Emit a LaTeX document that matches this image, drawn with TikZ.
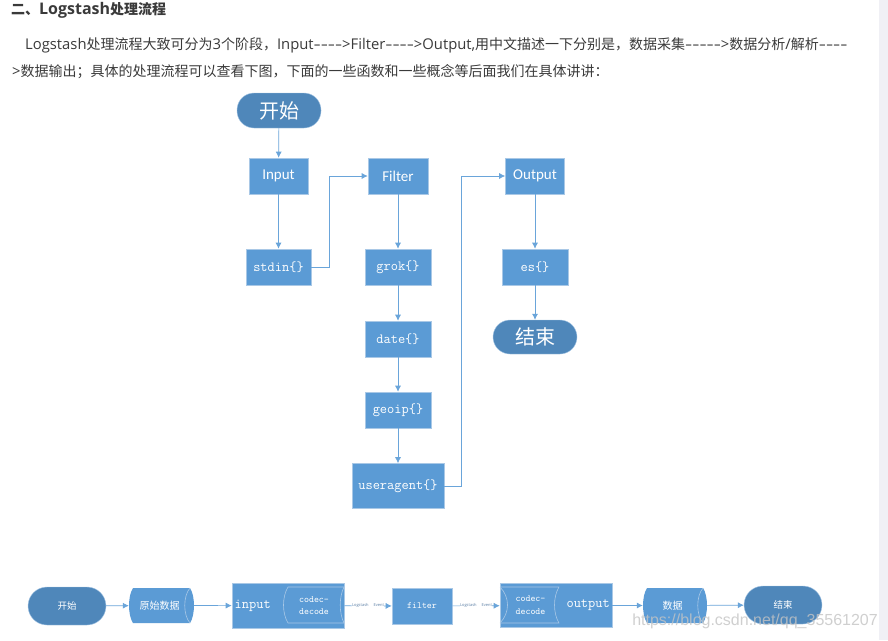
\documentclass[tikz,border=0pt]{standalone}
\usepackage{fontspec}
\usepackage{graphicx}
\setmainfont{Open Sans}
\newfontfamily\cjk{Noto Sans CJK SC}
\newfontfamily\lab{Carlito}
\newfontfamily\wm{Liberation Sans}
\usetikzlibrary{arrows.meta,calc}
\newcommand{\dd}{\scalebox{1.5}[1]{-}}
\newcommand{\zh}[1]{{\cjk\fontsize{14}{17}\selectfont #1}}
\newcommand{\zhb}[1]{{\cjk\bfseries\fontsize{14}{17}\selectfont #1}}
\definecolor{boxblue}{HTML}{5B9BD5}
\definecolor{termblue}{HTML}{4F87BA}
\definecolor{edgeblue}{HTML}{A9C8E6}
\definecolor{wire}{HTML}{6AA5DA}
\definecolor{inktext}{HTML}{3A3A3A}
\definecolor{scrollbar}{HTML}{F0F0F5}
\definecolor{mark}{HTML}{C4C4C4}
\definecolor{tiny}{HTML}{5B7FA5}
\tikzset{
  bluebox/.style={rectangle,fill=boxblue,draw=edgeblue,line width=.6pt,text=white,inner sep=0pt},
  terminator/.style={rectangle,fill=termblue,draw=edgeblue,line width=.4pt,text=white,inner sep=0pt,rounded corners=17pt},
  plainnode/.style={inner sep=0pt,text=white},
  link/.style={draw=wire,line width=.7pt,-{Latex[length=6pt,width=6pt]}},
  innerline/.style={draw=edgeblue,line width=.6pt},
  bodytext/.style={inner sep=0pt,anchor=west,text=inktext},
  eventlabel/.style={fill=white,inner sep=.3pt,text=tiny,font=\fontsize{4}{5}\selectfont},
  codefont/.style={font=\ttfamily\fontsize{14}{16}\selectfont},
  smallcode/.style={font=\ttfamily\fontsize{9.5}{12.5}\selectfont},
  bigcode/.style={font=\ttfamily\fontsize{14}{16}\selectfont}
}
\newcommand{\cylfill}[4]{% x0 y0 x1 y1
  \fill[boxblue] (#1+4,#2) .. controls (#1-1.3,#2+8) and (#1-1.3,#4-8) .. (#1+4,#4) -- (#3-4,#4)
    .. controls (#3+1.3,#4-8) and (#3+1.3,#2+8) .. (#3-4,#2) -- cycle;
  \draw[innerline] (#3-4,#2) .. controls (#3-11,#2+8) and (#3-11,#4-8) .. (#3-4,#4);
}
\begin{document}
\begin{tikzpicture}[x=1pt,y=-1pt]
\useasboundingbox (0,0) rectangle (888,640);
\fill[white] (0,0) rectangle (888,640);
\fill[scrollbar] (879,0) rectangle (888,640);

% page text
\node[bodytext,font=\bfseries\fontsize{16}{18}\selectfont] (heading) at (11,10.5) {\zhb{二、}Logstash\zhb{处理流程}};
\node[bodytext,font=\fontsize{14.8}{17}\selectfont] (lineone) at (25,45.5) {Logstash\zh{处理流程大致可分为}3\zh{个阶段，}Input\dd\dd\dd\dd>Filter\dd\dd\dd\dd>Output,\zh{用中文描述一下分别是，数据采集}\dd\dd\dd\dd\dd>\zh{数据分析}/\zh{解析}\dd\dd\dd\dd};
\node[bodytext,font=\fontsize{14.8}{17}\selectfont] (linetwo) at (12,71.5) {>\zh{数据输出；具体的处理流程可以查看下图，下面的一些函数和一些概念等后面我们在具体讲讲：}};

% upper flow
\node[terminator,minimum width=84pt,minimum height=35pt,font=\cjk\fontsize{20}{24}\selectfont] (start) at (279,110.5) {开始};
\node[bluebox,minimum width=59pt,minimum height=36pt,font=\lab\fontsize{15}{17}\selectfont] (input) at (278.5,176) {Input};
\node[bluebox,minimum width=65pt,minimum height=36pt,codefont] (stdin) at (278.5,267) {stdin\{\}};
\node[bluebox,minimum width=60pt,minimum height=36pt,font=\lab\fontsize{15}{17}\selectfont] (filter) at (398,176) {Filter};
\node[bluebox,minimum width=66pt,minimum height=36pt,codefont] (grok) at (398,267) {grok\{\}};
\node[bluebox,minimum width=66pt,minimum height=36pt,codefont] (date) at (398,339) {date\{\}};
\node[bluebox,minimum width=66pt,minimum height=36pt,codefont] (geoip) at (398,410) {geoip\{\}};
\node[bluebox,minimum width=92pt,minimum height=45pt,codefont] (useragent) at (398,486) {useragent\{\}};
\node[bluebox,minimum width=59pt,minimum height=36pt,font=\lab\fontsize{15}{17}\selectfont] (output) at (535,176) {Output};
\node[bluebox,minimum width=66pt,minimum height=36pt,codefont] (es) at (535,267) {es\{\}};
\node[terminator,minimum width=84pt,minimum height=34pt,font=\cjk\fontsize{20}{24}\selectfont] (finish) at (535,337) {结束};

\draw[link] (start) -- (input);
\draw[link] (input) -- (stdin);
\draw[link] (stdin.east) -- ++(18,0) |- (filter.west);
\draw[link] (filter) -- (grok);
\draw[link] (grok) -- (date);
\draw[link] (date) -- (geoip);
\draw[link] (geoip) -- (useragent);
\draw[link] (useragent.east) -- ++(17,0) |- (output.west);
\draw[link] (output) -- (es);
\draw[link] (es) -- (finish);

% lower flow
\node[terminator,minimum width=78pt,minimum height=38pt,rounded corners=19pt,font=\cjk\fontsize{9.5}{11}\selectfont] (bstart) at (67,606) {开始};
\cylfill{129}{588}{194}{623}
\node[plainnode,minimum width=65pt,minimum height=35pt,font=\cjk\fontsize{10}{12}\selectfont] (raw) at (161.5,605.5) {\hspace{-4pt}原始数据};
\node[bluebox,minimum width=112pt,minimum height=44.5pt] (binput) at (288,605.7) {};
\node[plainnode,anchor=west,bigcode] (binputlabel) at (234.5,605.5) {input};
\draw[innerline] (344,587) -- (288,587) .. controls (282,597) and (282,613) .. (288,623) -- (344,623);
\draw[innerline] (344,587) .. controls (339,597) and (339,613) .. (344,623);
\node[plainnode,align=center,smallcode] (bdecode) at (314,605.5) {codec-\\decode};
\node[bluebox,minimum width=60pt,minimum height=36pt,smallcode] (bfilter) at (422,606) {filter};
\node[bluebox,minimum width=112pt,minimum height=44.5pt] (boutput) at (556,605.5) {};
\node[plainnode,anchor=east,bigcode] (boutputlabel) at (610,605) {output};
\draw[innerline] (500,587) -- (559,587) .. controls (553,597) and (553,613) .. (559,623) -- (500,623);
\draw[innerline] (500,587) .. controls (510,597) and (510,613) .. (500,623);
\node[plainnode,align=center,smallcode] (bencode) at (530.5,605) {codec-\\decode};
\cylfill{643}{588}{707}{623}
\node[plainnode,minimum width=64pt,minimum height=35pt,font=\cjk\fontsize{10}{12}\selectfont] (bdata) at (675,605.5) {\hspace{-5pt}数据};
\node[terminator,minimum width=78pt,minimum height=38pt,rounded corners=19pt,font=\cjk\fontsize{9.5}{11}\selectfont] (bfinish) at (783,605) {结束};

\draw[link] (bstart) -- (raw);
\draw[link] (raw) -- (binput);
\draw[link] (binput) -- node[eventlabel] (evone) {Logstash\hspace{5pt}Event} (bfilter);
\draw[link] (bfilter) -- node[eventlabel] (evtwo) {Logstash\hspace{5pt}Event} (boutput);
\draw[link] (boutput) -- (bdata);
\draw[link] (bdata) -- (bfinish);

% watermark
\node[inner sep=0pt,anchor=east,text=mark,opacity=.8,font=\wm\fontsize{16}{20}\selectfont] (watermark) at (878,621) {https://blog.csdn.net/qq\_35561207};
\end{tikzpicture}
\end{document}
